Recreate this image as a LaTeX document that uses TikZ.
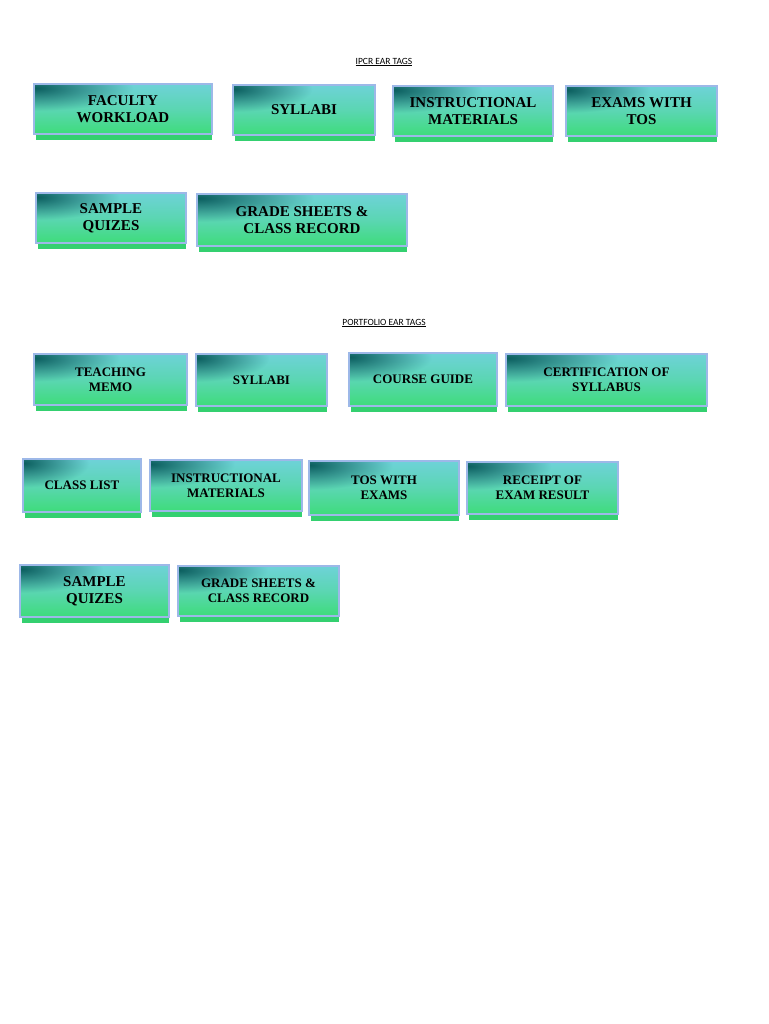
\documentclass[tikz,border=0pt]{standalone}
\usepackage{fontspec}
\setmainfont{Liberation Serif}
\newfontfamily\titlefont{Carlito}
\usetikzlibrary{fadings,calc}
\definecolor{edge}{HTML}{9DB8E8}
\definecolor{cyanc}{HTML}{6ED2D8}
\definecolor{greenc}{HTML}{3EDC7A}
\definecolor{tealc}{HTML}{0B5E5E}
\definecolor{barc}{HTML}{34D070}
\tikzfading[name=tlfade, inner color=transparent!0, outer color=transparent!100]
\newcommand\tagbox[7]{%
  \pgfmathsetmacro\tw{#4-#2}\pgfmathsetmacro\th{#5-#3}%
  \fill[barc] (#2+2,-#5-1) rectangle (#4,-#5-6);
  \shade[top color=cyanc, bottom color=greenc, middle color=cyanc!60!greenc] (#2,-#3) rectangle (#4,-#5);
  \fill[tealc, path fading=tlfade, fit fading=false, fading transform={shift={(#2,-#3-4)}, xscale=\tw/45, yscale=\th/55}] (#2,-#3) rectangle (#4,-#5);
  \draw[edge, line width=2.2pt] (#2,-#3) rectangle (#4,-#5);
  \node[tagtext, font=\bfseries\fontsize{#7}{\the\numexpr#7+2\relax}\selectfont] (#1) at ({(#2+#4)/2},{-(#3+#5)/2}) {#6};
}
\tikzset{tagtext/.style={align=center, inner sep=0pt, text=black},
 title/.style={font=\titlefont\fontsize{9.5}{11}\selectfont, inner sep=0pt}}
\begin{document}
\begin{tikzpicture}[x=1pt,y=1pt]
\useasboundingbox (0,0) rectangle (768,-1024);
\node[title] (t1) at (384,-62) {\underline{IPCR EAR TAGS}};
\tagbox{a1}{34}{84}{212}{134}{FACULTY\\WORKLOAD}{15}
\tagbox{a2}{233}{85}{375}{135}{SYLLABI}{15}
\tagbox{a3}{393}{86}{553}{136}{INSTRUCTIONAL\\MATERIALS}{15}
\tagbox{a4}{566}{86}{717}{136}{EXAMS WITH\\TOS}{15}
\tagbox{a5}{36}{193}{186}{243}{SAMPLE\\QUIZES}{15}
\tagbox{a6}{197}{194}{407}{246}{GRADE SHEETS \&\\CLASS RECORD}{15}
\node[title] (t2) at (384,-323) {\underline{PORTFOLIO EAR TAGS}};
\tagbox{b1}{34}{354}{187}{405}{TEACHING\\MEMO}{13}
\tagbox{b2}{196}{354}{327}{406}{SYLLABI}{13}
\tagbox{b3}{349}{353}{497}{406}{COURSE GUIDE}{13}
\tagbox{b4}{506}{354}{707}{406}{CERTIFICATION OF\\SYLLABUS}{13}
\tagbox{b5}{23}{459}{141}{512}{CLASS LIST}{13}
\tagbox{b6}{150}{460}{302}{511}{INSTRUCTIONAL\\MATERIALS}{13}
\tagbox{b7}{309}{461}{459}{515}{TOS WITH\\EXAMS}{13}
\tagbox{b8}{467}{462}{618}{514}{RECEIPT OF\\EXAM RESULT}{13}
\tagbox{b9}{20}{565}{169}{617}{SAMPLE\\QUIZES}{15}
\tagbox{b10}{178}{566}{339}{616}{GRADE SHEETS \&\\CLASS RECORD}{13}
\end{tikzpicture}
\end{document}
